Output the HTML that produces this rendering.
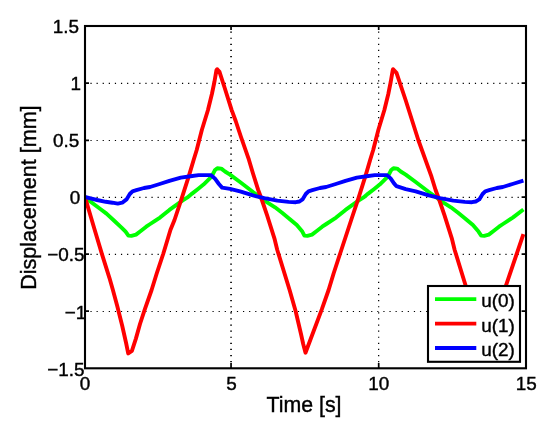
<!DOCTYPE html>
<html><head><meta charset="utf-8"><title>Displacement plot</title>
<style>
html,body{margin:0;padding:0;background:#fff;}
svg{display:block;}
text{font-family:"Liberation Sans", Arial, Helvetica, sans-serif;fill:#000;stroke:#000;stroke-width:0.4px;}
.tk{font-size:18.9px;}
.lb{font-size:21.33px;}
.yl{font-size:21.55px;}
</style></head><body>
<svg width="550" height="432" viewBox="0 0 550 432">
<rect width="550" height="432" fill="#fff"/>
<defs><clipPath id="c"><rect x="85" y="26" width="441" height="342"/></clipPath></defs>
<g stroke="#000" stroke-width="1.1" stroke-dasharray="1.2 4.902" fill="none">
<line x1="84.35" y1="83.35" x2="526" y2="83.35"/>
<line x1="84.35" y1="140.55" x2="526" y2="140.55"/>
<line x1="84.35" y1="197.35" x2="526" y2="197.35"/>
<line x1="84.35" y1="254.35" x2="526" y2="254.35"/>
<line x1="84.35" y1="311.45" x2="526" y2="311.45"/>
<line x1="231.05" y1="25.45" x2="231.05" y2="368" stroke-width="1.7"/>
<line x1="378.65" y1="25.45" x2="378.65" y2="368" stroke-width="1.25"/>
</g>
<g stroke="#000" stroke-width="1.7" fill="none">
<path d="M85 83.1h4M85 140.3h4M85 197.1h4M85 254.1h4M85 311.2h4M526 83.1h-4.4M526 140.3h-4.4M526 197.1h-4.4M526 254.1h-4.4M526 311.2h-4.4"/>
<path d="M231.05 26v4M378.7 26v4M231.05 368.3v-5.3M378.7 368.3v-5.3"/>
</g>
<g clip-path="url(#c)" fill="none" stroke-width="3.9" stroke-linejoin="round" stroke-linecap="butt">
<polyline stroke="#00ff00" points="85,197.6 100,208.7 106.5,213.6 114.2,220.7 121.8,227.8 125.6,231.6 128.4,235.6 131.4,235.9 136,234.6 141.4,230.5 146.2,226.7 150.2,224 155,220.8 160,217.6 169.4,209.9 182.4,200.6 187.5,197.4 192.1,193.6 198,189 203.5,184.6 211.6,176.6 214.8,170.3 217.3,168.2 221.3,168.6 225,171.5 230,174.6 240,182 253,192 267.6,202.7 275,207.3 282.1,212.8 289,218.4 296.8,225.1 302.3,231.6 304.4,235.6 307.4,235.9 312,234.6 317.4,230.5 322.2,226.7 326.3,224 331.1,220.8 336.1,217.6 345.5,209.9 358.5,200.6 363.6,197.4 368.2,193.6 374.2,189 379.7,184.6 387.8,176.6 391,170.3 393.5,168.2 397.1,168.6 400.7,171.5 405.7,174.6 415.7,182 428.8,192 443.5,202.7 450.9,207.3 458.1,212.8 465.1,218.4 472.9,225.1 478.5,231.6 481.2,235.6 484.2,235.9 488.8,234.6 494.2,230.5 499,226.7 503,224 507.8,220.8 512.8,217.6 523.4,209.5"/>
<polyline stroke="#ff0000" points="85,197 94.2,228.2 101.8,253.6 109.4,277.8 112.9,290 117.3,306.2 122.2,325.7 126.2,343.5 128.2,353.4 131.9,350.8 135.9,338.6 140,324 144.8,309.4 151.6,290 156.7,273.5 163.2,254 168.1,237.8 170.5,229.7 174.5,220 181.6,198.6 188.9,175.9 193.7,159.7 196.7,150 201.9,129.7 207.9,110.2 211.9,94 214.4,82 216.4,70.4 217.2,69.2 219.5,71.8 224.4,87 231.6,109.8 235.7,121 241,137 248.9,159.7 253,173.5 258.1,189.7 261.2,198 267.2,215.7 274.4,238.3 277.2,249.7 289.6,290 295.6,311 301,334 303.2,344 305.5,352.7 321.8,309.4 328.6,290 333.6,273.5 340,254 351.2,220 358.3,198.6 365.5,175.9 370.2,159.7 373.2,150 378.4,129.7 384.3,110.2 388.3,94 390.7,82 392.7,70.4 393,69.2 396.5,72.8 405.6,100 418.3,140 431.5,176.7 435.5,189.7 438.6,198 444.6,215.7 451.8,238.3 454.6,249.7 467,290 473,311 478.4,334 480.6,344 481,353.4 484.7,350.8 488.7,338.6 492.8,324 497.6,309.4 504.4,290 506.2,284.8 523.4,234.2"/>
<polyline stroke="#0000ff" points="85,197 90.5,198.4 97.1,200 105.8,201.8 112.4,202.7 117.8,203.6 122.2,202.7 126.5,199.4 129.8,194 132.5,191.3 136.3,190.2 144,188 150,187 159.7,184 169.4,180.8 180.8,177.6 190.5,176.3 198.6,175.1 210.8,175.1 214.8,178.4 218.9,184 222.1,187.6 230,188.9 240,191.3 253,195.4 264.3,198.2 277.3,200.6 288.6,201.9 295.9,202.2 299.5,201.5 302.5,199.4 305.8,194 308.5,191.3 312.3,190.2 320,188 326.1,187 335.8,184 345.5,180.8 356.9,177.6 366.6,176.3 374.8,175.1 387,175.1 390.6,178.4 394,183.4 396.5,186.2 405.7,189.2 415.7,191.3 428.8,195.4 440.1,198.2 453.3,200.6 464.7,201.9 472,202.2 475.7,201.5 479.3,199.4 482.6,194 485.3,191.3 489.1,190.2 496.8,188 502.8,187 512.5,184 523.4,180.6"/>
</g>
<rect x="85" y="26" width="441" height="342.3" fill="none" stroke="#000" stroke-width="2.1"/>
<rect x="428" y="286" width="92" height="75.8" fill="#fff" stroke="#000" stroke-width="2.1"/>
<g stroke-width="3.9" fill="none">
<line x1="435" y1="299.15" x2="476.3" y2="299.15" stroke="#00ff00"/>
<line x1="435" y1="323.6" x2="476.3" y2="323.6" stroke="#ff0000"/>
<line x1="435" y1="348" x2="476.3" y2="348" stroke="#0000ff"/>
</g>
<g class="tk">
<text x="481.2" y="307.3">u(0)</text>
<text x="481.2" y="331.7">u(1)</text>
<text x="481.2" y="356.1">u(2)</text>
<text x="79.1" y="33.3" text-anchor="end">1.5</text>
<text x="81" y="90.3" text-anchor="end">1</text>
<text x="79.3" y="147.2" text-anchor="end">0.5</text>
<text x="80.2" y="204.3" text-anchor="end">0</text>
<text x="84.6" y="261.3" text-anchor="end">−0.5</text>
<text x="86.3" y="318.6" text-anchor="end">−1</text>
<text x="84.5" y="375.7" text-anchor="end">−1.5</text>
<text x="85" y="389.9" text-anchor="middle">0</text>
<text x="231.4" y="389.9" text-anchor="middle">5</text>
<text x="378.8" y="389.9" text-anchor="middle">10</text>
<text x="526.2" y="389.9" text-anchor="middle">15</text>
</g>
<g class="lb">
<text x="304" y="412.3" text-anchor="middle">Time [s]</text>
<text class="yl" transform="translate(36.1 197.6) rotate(-90)" text-anchor="middle">Displacement [mm]</text>
</g>
</svg>
</body></html>
